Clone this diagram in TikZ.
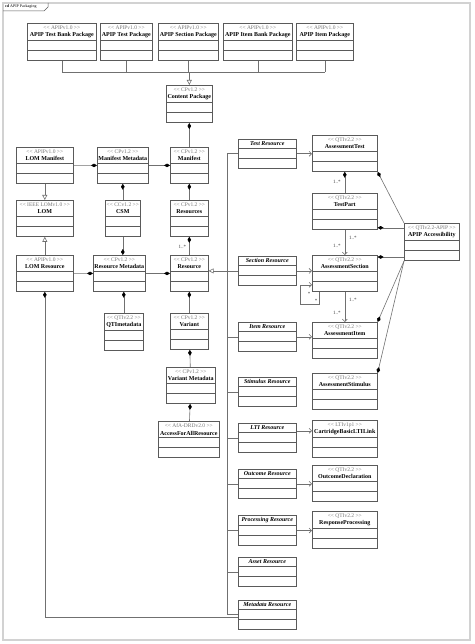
\documentclass[tikz,border=0pt]{standalone}
\usepackage{fontspec}
\setmainfont{Liberation Serif}
\usetikzlibrary{arrows.meta,positioning,shapes.multipart}
\definecolor{boxLine}{HTML}{5A5A5A}
\definecolor{linkLine}{HTML}{707070}
\definecolor{stereoGray}{HTML}{777777}
\definecolor{frameGray}{HTML}{D2D2D2}
\newcommand{\stereo}[1]{{\fontsize{5.5}{7}\selectfont\color{stereoGray}<{}< #1 >{}>}}
\newcommand{\clsname}[2]{\stereo{#1}\\\textbf{#2}}

\begin{document}
\begin{tikzpicture}[x=1pt,y=-1pt,every node/.style={font=\fontsize{6}{7.5}\selectfont}]
  \tikzstyle{cls}=[draw=boxLine,fill=white,line width=0.6pt,anchor=north west,
                   rectangle split,rectangle split parts=3,
                   rectangle split ignore empty parts=false,
                   rectangle split empty part height=5pt,
                   rectangle split empty part depth=0pt,
                   inner xsep=1pt,inner ysep=2.2pt,align=center]
  \tikzstyle{link}=[draw=linkLine,line width=0.6pt]
  \tikzstyle{comp}=[link,{Diamond[length=6pt,width=3.6pt,black]}-]
  \tikzstyle{assoc}=[link,-{Straight Barb[length=2.5pt,width=5pt]}]
  \tikzstyle{mult}=[font=\fontsize{5}{6}\selectfont,text=black!75,inner sep=0pt]
  \useasboundingbox (0,0) rectangle (474,644);
  \draw[frameGray,line width=1.5pt] (3,3) rectangle (470,640);
  % diagram tab
  \node[anchor=west,inner sep=1pt,font=\fontsize{4}{5}\selectfont] (title) at (4,7) {\textbf{cd} APIP Packaging};
  \draw[boxLine,line width=0.5pt] (3,11) -- (44,11) -- (48,7) -- (48,3);

  % packages
  \node[cls,minimum width=69pt] (pTB) at (27,23) {\clsname{APIPv1.0}{APIP Test Bank Package}\nodepart{two}\nodepart{three}};
  \node[cls,minimum width=52pt] (pT) at (100,23) {\clsname{APIPv1.0}{APIP Test Package}\nodepart{two}\nodepart{three}};
  \node[cls,minimum width=60pt] (pS) at (158,23) {\clsname{APIPv1.0}{APIP Section Package}\nodepart{two}\nodepart{three}};
  \node[cls,minimum width=69pt] (pIB) at (223,23) {\clsname{APIPv1.0}{APIP Item Bank Package}\nodepart{two}\nodepart{three}};
  \node[cls,minimum width=57pt] (pI) at (296,23) {\clsname{APIPv1.0}{APIP Item Package}\nodepart{two}\nodepart{three}};
  \node[cls,minimum width=46pt] (cp) at (166,85) {\clsname{CPv1.2}{Content Package}\nodepart{two}\nodepart{three}};

  % manifest side
  \node[cls,minimum width=57pt] (lomm) at (16,147) {\clsname{APIPv1.0}{LOM Manifest}\nodepart{two}\nodepart{three}};
  \node[cls,minimum width=51pt] (mmeta) at (97,147) {\clsname{CPv1.2}{Manifest Metadata}\nodepart{two}\nodepart{three}};
  \node[cls,minimum width=38pt] (man) at (170,147) {\clsname{CPv1.2}{Manifest}\nodepart{two}\nodepart{three}};
  \node[cls,minimum width=57pt] (lom) at (16,200) {\clsname{IEEE LOMv1.0}{LOM}\nodepart{two}\nodepart{three}};
  \node[cls,minimum width=35pt] (csm) at (105,200) {\clsname{CCv1.2}{CSM}\nodepart{two}\nodepart{three}};
  \node[cls,minimum width=38pt] (ress) at (170,200) {\clsname{CPv1.2}{Resources}\nodepart{two}\nodepart{three}};
  \node[cls,minimum width=57pt] (lomr) at (16,255) {\clsname{APIPv1.0}{LOM Resource}\nodepart{two}\nodepart{three}};
  \node[cls,minimum width=52pt] (rmeta) at (93,255) {\clsname{CPv1.2}{Resource Metadata}\nodepart{two}\nodepart{three}};
  \node[cls,minimum width=38pt] (res) at (170,255) {\clsname{CPv1.2}{Resource}\nodepart{two}\nodepart{three}};
  \node[cls,minimum width=39pt] (qtim) at (104,313) {\clsname{QTIv2.2}{QTImetadata}\nodepart{two}\nodepart{three}};
  \node[cls,minimum width=38pt] (var) at (170,313) {\clsname{CPv1.2}{Variant}\nodepart{two}\nodepart{three}};
  \node[cls,minimum width=49pt] (vmeta) at (166,367) {\clsname{CPv1.2}{Variant Metadata}\nodepart{two}\nodepart{three}};
  \node[cls,minimum width=61pt] (afa) at (158,421) {\clsname{AfA-DRDv2.0}{AccessForAllResource}\nodepart{two}\nodepart{three}};

  % resource kinds
  \node[cls,minimum width=58pt] (tres) at (238,139) {\textbf{\textit{Test Resource}}\nodepart{two}\nodepart{three}};
  \node[cls,minimum width=58pt] (sres) at (238,256) {\textbf{\textit{Section Resource}}\nodepart{two}\nodepart{three}};
  \node[cls,minimum width=58pt] (ires) at (238,322) {\textbf{\textit{Item Resource}}\nodepart{two}\nodepart{three}};
  \node[cls,minimum width=58pt] (stres) at (238,377) {\textbf{\textit{Stimulus Resource}}\nodepart{two}\nodepart{three}};
  \node[cls,minimum width=58pt] (ltres) at (238,423) {\textbf{\textit{LTI Resource}}\nodepart{two}\nodepart{three}};
  \node[cls,minimum width=58pt] (ores) at (238,469) {\textbf{\textit{Outcome Resource}}\nodepart{two}\nodepart{three}};
  \node[cls,minimum width=58pt] (pres) at (238,515) {\textbf{\textit{Processing Resource}}\nodepart{two}\nodepart{three}};
  \node[cls,minimum width=58pt] (ares) at (238,557) {\textbf{\textit{Asset Resource}}\nodepart{two}\nodepart{three}};
  \node[cls,minimum width=58pt] (mres) at (238,600) {\textbf{\textit{Metadata Resource}}\nodepart{two}\nodepart{three}};

  % qti classes
  \node[cls,minimum width=65pt] (at) at (312,135) {\clsname{QTIv2.2}{AssessmentTest}\nodepart{two}\nodepart{three}};
  \node[cls,minimum width=65pt] (tp) at (312,193) {\clsname{QTIv2.2}{TestPart}\nodepart{two}\nodepart{three}};
  \node[cls,minimum width=65pt] (as) at (312,255) {\clsname{QTIv2.2}{AssessmentSection}\nodepart{two}\nodepart{three}};
  \node[cls,minimum width=65pt] (ai) at (312,322) {\clsname{QTIv2.2}{AssessmentItem}\nodepart{two}\nodepart{three}};
  \node[cls,minimum width=65pt] (ast) at (312,373) {\clsname{QTIv2.2}{AssessmentStimulus}\nodepart{two}\nodepart{three}};
  \node[cls,minimum width=65pt] (lti) at (312,420) {\clsname{LTIv1p1}{CartridgeBasicLTILink}\nodepart{two}\nodepart{three}};
  \node[cls,minimum width=65pt] (od) at (312,465) {\clsname{QTIv2.2}{OutcomeDeclaration}\nodepart{two}\nodepart{three}};
  \node[cls,minimum width=65pt] (rp) at (312,511) {\clsname{QTIv2.2}{ResponseProcessing}\nodepart{two}\nodepart{three}};
  \node[cls,minimum width=55pt] (apip) at (404,223) {\clsname{QTIv2.2-APIP}{APIP Accessibility}\nodepart{two}\nodepart{three}};

  % packages into content package
  \coordinate (pkgbus) at ([yshift=13pt]cp.north);
  \foreach \p in {pTB,pT,pS,pIB,pI}
    \draw[link] (\p.south) -- (\p.south |- pkgbus);
  \draw[link] (pTB.south |- pkgbus) -- (pI.south |- pkgbus);
  \draw[link,-{Triangle[open,length=5pt,width=5pt]}] (pkgbus) -- (cp.north);

  % compositions
  \draw[comp] (cp) -- (man);
  \draw[comp] (mmeta) -- (lomm);
  \draw[comp] (man) -- (mmeta);
  \draw[comp] (mmeta) -- (csm);
  \draw[comp] (man) -- (ress);
  \draw[comp] (ress) -- (res);
  \draw[comp] (csm.south |- rmeta.north) -- (csm.south);
  \draw[comp] (rmeta) -- (lomr);
  \draw[comp] (res) -- (rmeta);
  \draw[comp] (qtim.north |- rmeta.south) -- (qtim.north);
  \draw[comp] (res) -- (var);
  \draw[comp] (var) -- (vmeta);
  \draw[comp] (vmeta) -- (afa);
  \draw[comp] (lomr.south) |- ([yshift=-2pt]mres.west);
  \node[mult,anchor=east] (mRes) at ([xshift=-3pt,yshift=8pt]res.north) {1..*};

  % lom generalisations
  \draw[link,-{Triangle[open,length=5pt,width=5pt]}] (lomm) -- (lom);
  \draw[link,-{Triangle[open,length=5pt,width=5pt]}] (lomr) -- (lom);

  % resource kinds
  \coordinate (rbus) at (227,0);
  \draw[link] (tres.west -| rbus) -- ([yshift=1pt]mres.west -| rbus);
  \foreach \r in {tres,sres,ires,stres,ltres,ores,pres,ares}
    \draw[link] (\r.west -| rbus) -- (\r.west);
  \draw[link] ([yshift=1pt]mres.west -| rbus) -- ([yshift=1pt]mres.west);
  \draw[link,{Triangle[open,length=5pt,width=5pt]}-] (res.east |- sres.west) -- (sres.west -| rbus);

  \draw[assoc] (tres.east) -- (tres.east -| at.west);
  \draw[assoc] (sres.east) -- (sres.east -| as.west);
  \draw[assoc] (ires.east) -- (ires.east -| ai.west);
  \draw[assoc] ([yshift=7pt]ltres.east) -- ([yshift=7pt]ltres.east -| lti.west);
  \draw[assoc] (ores.east) -- (ores.east -| od.west);
  \draw[assoc] (pres.east) -- (pres.east -| rp.west);

  % qti structure
  \draw[comp] (at) -- (tp);
  \node[mult,anchor=east] (mTP) at ([xshift=-4pt,yshift=-10pt]at.south) {1..*};
  \draw[assoc] (tp) -- (as);
  \node[mult,anchor=west] (mTPa) at ([xshift=4pt,yshift=-8pt]tp.south) {1..*};
  \node[mult,anchor=east] (mTPb) at ([xshift=-4pt,yshift=9pt]as.north) {1..*};
  \draw[assoc] (as) -- (ai);
  \node[mult,anchor=west] (mASa) at ([xshift=4pt,yshift=-8pt]as.south) {1..*};
  \node[mult,anchor=east] (mASb) at ([xshift=-4pt,yshift=9pt]ai.north) {1..*};
  \draw[assoc] ([xshift=7pt]as.south west) -- ++(0,12) -- ++(-19,0) -- ++(0,-19) -- ([yshift=7pt]as.south west);
  \node[mult] (mSelfA) at ([xshift=-3pt,yshift=-2pt]as.south west) {*};
  \node[mult] (mSelfB) at ([xshift=4pt,yshift=-9pt]as.south west) {*};

  % accessibility
  \draw[comp] (at.south east) -- (apip.north west);
  \draw[comp] ([yshift=2pt]tp.south east) -- ([yshift=2pt]tp.south east -| apip.west);
  \draw[comp] ([yshift=-2pt]as.north east) -- ([yshift=-2pt]as.north east -| apip.west);
  \draw[comp] (ai.north east) -- (apip.south west);
  \draw[comp] (ast.north east) -- (apip.south west);
\end{tikzpicture}
\end{document}
